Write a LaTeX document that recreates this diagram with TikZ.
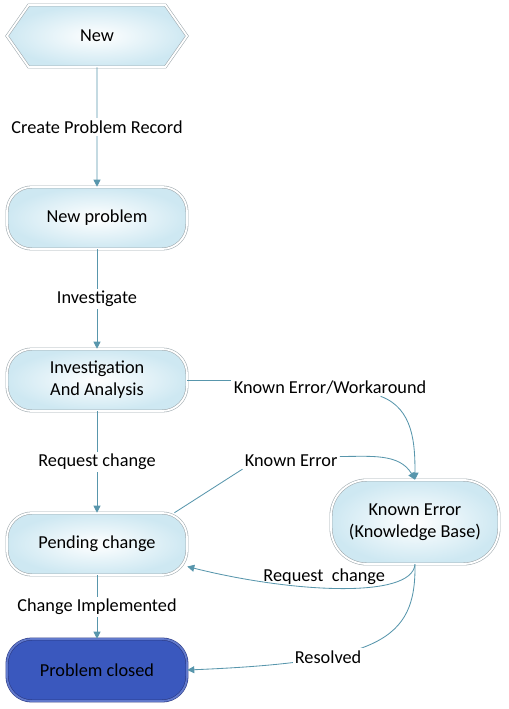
\documentclass[tikz,border=0pt]{standalone}
\usepackage{fontspec}
\setmainfont{Carlito}
\usetikzlibrary{shapes.symbols, arrows.meta, positioning}
\definecolor{linecol}{RGB}{88,150,172}
\definecolor{edgecol}{RGB}{160,170,175}
\definecolor{paleblue}{RGB}{206,232,242}
\definecolor{darkblue}{RGB}{58,88,190}
\definecolor{navyedge}{RGB}{40,55,130}
\tikzset{
    state/.style={rectangle, rounded corners=0.62cm, minimum width=4.5cm, minimum height=1.55cm, text centered, align=center, draw=edgecol, double=white, double distance=1.3pt, inner color=white, outer color=paleblue},
    start/.style={signal, signal to=west and east, signal pointer angle=110, minimum width=4.5cm, minimum height=1.55cm, text centered, draw=edgecol, double=white, double distance=1.3pt, inner color=white, outer color=paleblue},
    closed/.style={rectangle, rounded corners=0.62cm, minimum width=4.5cm, minimum height=1.55cm, text centered, draw=navyedge, double=darkblue!80, double distance=1.3pt, fill=darkblue},
    lbl/.style={fill=white, inner sep=1.5pt, text=black},
    flow/.style={->, >={Triangle[width=5pt, length=5pt]}, draw=linecol, line width=0.6pt},
    link/.style={draw=linecol, line width=0.6pt}
}
\begin{document}
\begin{tikzpicture}[font=\fontsize{13}{15.5}\selectfont]
    \useasboundingbox (0,0) rectangle (12.7,-17.725);

    % States
    \node[start] (new) at (2.425,-0.9) {New};
    \node[state] (newprob) at (2.425,-5.45) {New problem};
    \node[state] (invest) at (2.425,-9.5) {Investigation\\ And Analysis};
    \node[state] (pending) at (2.425,-13.6) {Pending change};
    \node[closed] (closed) at (2.425,-16.75) {Problem closed};
    \node[state, minimum width=4.2cm, minimum height=2.1cm, rounded corners=0.9cm] (kerr) at (10.375,-13.05) {Known Error\\ (Knowledge Base)};

    % Main flow
    \draw[flow] (new) -- (newprob) node[lbl, midway] {Create Problem Record};
    \draw[flow] (newprob) -- (invest) node[lbl, midway] {Investigate};
    \draw[flow] (invest) -- (pending) node[lbl, midway] {Request change};
    \draw[flow] (pending) -- (closed) node[lbl, midway] {Change Implemented};

    % Known error flows
    \node[lbl] (kewlbl) at (8.25,-9.68) {Known Error/Workaround};
    \draw[link] (invest.east) -- (kewlbl.west |- invest.east);
    \draw[flow] (kewlbl.south east) ++(-1.2,0) to[out=-20, in=90] (kerr.north);

    \node[lbl] (kelbl) at (7.28,-11.52) {Known Error};
    \draw[link] (pending.22) -- (kelbl.south west);
    \draw[flow] (kelbl.north east) ++(0,-0.1) to[out=0, in=120] (kerr.north);

    \draw[flow] (kerr.south) .. controls (10.3,-15.0) and (7.2,-14.8) .. (pending.-14)
        node[pos=0.55, above=-1pt, text=black] {Request\ \ change};
    \draw[flow] (kerr.south) .. controls (10.4,-16.0) and (9.5,-16.55) .. (closed.east)
        node[lbl, pos=0.68] {Resolved};
\end{tikzpicture}
\end{document}
